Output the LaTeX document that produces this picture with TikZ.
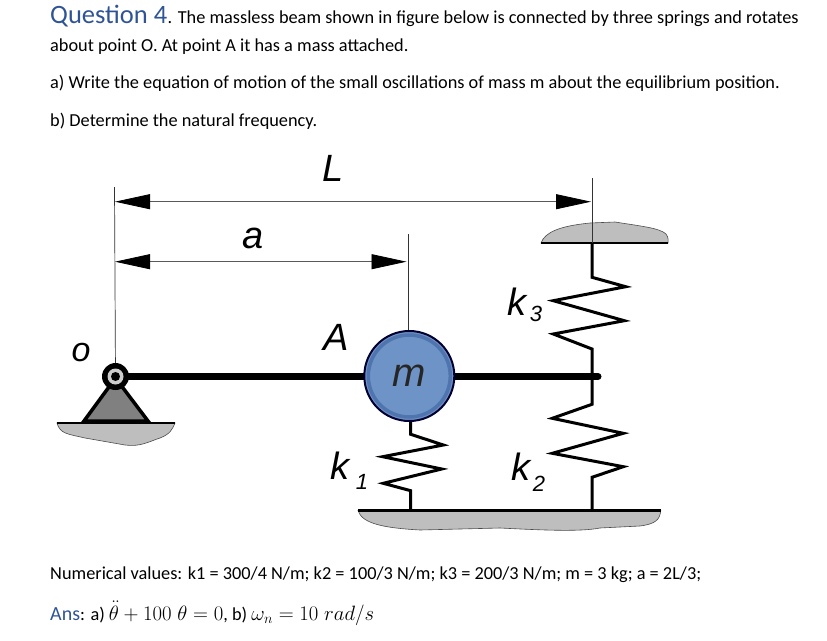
\documentclass[tikz,border=0pt]{standalone}
\usepackage{fontspec}
\setmainfont{Carlito}
\newfontfamily\labelfont{Liberation Sans}
\usepackage{xcolor}
\usetikzlibrary{arrows.meta}
\definecolor{headblue}{HTML}{2F5496}
\definecolor{massblue}{HTML}{6E93C6}
\definecolor{massring}{HTML}{4F74AE}
\definecolor{groundgray}{HTML}{BEBEBE}
\definecolor{wedgegray}{HTML}{808080}
\newcommand{\bigmath}[1]{{\fontsize{20.4}{24}\selectfont$#1$}}

\begin{document}
\begin{tikzpicture}[x=1pt, y=-1pt,
    txt/.style={anchor=base west, inner sep=0pt, font=\fontsize{18.3}{22}\selectfont},
    lbl/.style={inner sep=0pt, font=\labelfont\itshape\fontsize{38}{40}\selectfont},
    sublbl/.style={inner sep=0pt, font=\labelfont\itshape\fontsize{22}{24}\selectfont},
    dim/.style={draw=black!65, line width=0.8pt, {Triangle[length=35pt, width=15pt, black]}-{Triangle[length=35pt, width=15pt, black]}},
    guide/.style={draw=black!80, line width=0.7pt},
    spring/.style={line width=3pt, line join=miter, line cap=butt},
    ground/.style={fill=groundgray, draw=black!70, line width=0.6pt}]
    \useasboundingbox (0,0) rectangle (827,640);

    % Enonce
    \node[txt, font=\fontsize{26.5}{30}\selectfont, text=headblue] (qhead) at (50,23.5) {Question 4};
    \node[txt] (qone) at (qhead.base east) {. The massless beam shown in figure below is connected by three springs and rotates};
    \node[txt] (qtwo) at (50,51.5) {about point O. At point A it has a mass attached.};
    \node[txt] (qa) at (50,88) {a) Write the equation of motion of the small oscillations of mass m about the equilibrium position.};
    \node[txt] (qb) at (50,126) {b) Determine the natural frequency.};

    % Points du mecanisme
    \coordinate (pivot) at (115.5,376.5);
    \coordinate (tipbeam) at (598,376.5);
    \coordinate (ceil) at (592,243);
    \coordinate (floorr) at (592,510.5);
    \coordinate (floorm) at (410.7,510.5);

    % Sols
    \draw[ground] (57,423) .. controls (60,434) and (68,434) .. (85,438) -- (125,445) .. controls (140,447) and (148,442) .. (160,438) .. controls (170,434) and (172,430) .. (175,423) -- cycle;
    \draw[ground] (541,243) .. controls (545,232) and (560,226) .. (590,223) -- (615,222) .. controls (640,226) and (660,228) .. (666,234) .. controls (669,238) and (668,241) .. (668,243) -- cycle;
    \draw[ground] (358,510.5) .. controls (362,524) and (385,528) .. (420,530) -- (500,528) .. controls (540,530) and (580,532) .. (600,528) -- (640,526) .. controls (655,524) and (660,520) .. (660.7,510.5) -- cycle;
    \draw[line width=2.2pt] (57,423) -- (175,423);
    \draw[line width=2.2pt] (541,243) -- (668,243);
    \draw[line width=2.2pt] (358,510.5) -- (660.7,510.5);

    % Lignes de rappel
    \coordinate (topo) at (114.5,187);
    \coordinate (topa) at (408,234);
    \coordinate (topl) at (592,178);
    \draw[guide] (topo) -- (pivot);
    \draw[guide] (topa) -- (408,335);
    \draw[guide] (topl) -- (ceil);

    % Cotes
    \coordinate (lstart) at (115,201.7);
    \coordinate (lend) at (591,201.7);
    \coordinate (astart) at (115,261.7);
    \coordinate (aend) at (406.5,261.7);
    \draw[dim] (lstart) -- (lend);
    \draw[dim] (astart) -- (aend);
    \node[lbl] (lablen) at (333,168) {L};
    \node[lbl] (labdist) at (253,238) {a};

    % Ressorts
    \draw[spring] (ceil) -- (592,277.3) -- (625.7,286.7) -- (553.3,300.7) -- (624.3,320.7) -- (553.3,334) -- (592,349) -- (592,376.5);
    \draw[spring] (592,376.5) -- (592,404.3) -- (552.3,418.3) -- (623.3,433.3) -- (552.3,453.3) -- (623.3,466.7) -- (592,477.3) -- (floorr);
    \draw[spring] (410.7,415) -- (410.7,434.3) -- (443.3,445) -- (382.7,456.7) -- (441.7,469) -- (383.3,483.3) -- (410.7,490.7) -- (floorm);

    % Poutre
    \draw[line width=7pt] (pivot) -- (tipbeam);
    \fill (tipbeam) circle (3.5);

    % Appui
    \draw[fill=wedgegray, line width=3.5pt, line join=miter] (115.5,378) -- (148,421) -- (84,421) -- cycle;
    \fill[black] (pivot) circle (13.5);
    \fill[black!20] (pivot) circle (8);
    \fill[black] (pivot) circle (4.5);

    % Masse
    \node[circle, minimum size=90pt, inner sep=0pt, fill=massblue, draw=black!80!blue, line width=2pt] (mass) at (409.3,376) {};
    \draw[massring, line width=3.5pt] (mass.center) circle (41);
    \node[inner sep=0pt, font=\labelfont\itshape\fontsize{40}{42}\selectfont, text=black!85] (labm) at (mass.center) {m};

    % Etiquettes
    \node[inner sep=0pt, font=\labelfont\itshape\fontsize{34}{36}\selectfont] (labo) at (81,353) {o};
    \node[lbl] (laba) at (336,337) {A};
    \node[lbl] (labk1) at (340,466) {k};
    \node[sublbl] (subk1) at (362,482) {1};
    \node[lbl] (labk2) at (521,467) {k};
    \node[sublbl] (subk2) at (539,484) {2};
    \node[lbl] (labk3) at (517,302) {k};
    \node[sublbl] (subk3) at (536,314) {3};

    % Resultats
    \node[txt] (numval) at (50,579) {Numerical values: k1 = 300/4 N/m; k2 = 100/3 N/m; k3 = 200/3 N/m; m = 3 kg; a = 2L/3;};
    \node[txt] (ans) at (50,620) {{\fontsize{20}{24}\selectfont\textcolor{headblue}{Ans}}: a) \bigmath{\ddot{\theta}+100\;\theta=0}, b) \bigmath{\omega_n=10\;rad/s}};
\end{tikzpicture}
\end{document}
